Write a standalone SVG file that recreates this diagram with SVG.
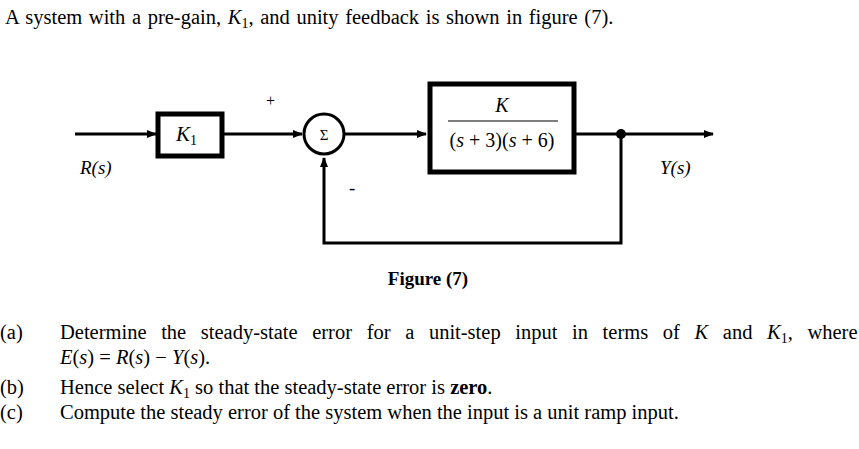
<svg xmlns="http://www.w3.org/2000/svg" width="859" height="449" viewBox="0 0 859 449">
<style>
text{font-family:"Liberation Serif",serif;fill:#000}
.t{font-size:20.5px}
.i{font-style:italic}
.ln{stroke:#000;stroke-width:3;fill:none}
.bx{stroke:#000;stroke-width:5;fill:#fff}
</style>
<defs><marker id="a" markerWidth="10" markerHeight="8" refX="9" refY="4" orient="auto" markerUnits="userSpaceOnUse"><path d="M0,0L10,4L0,8z" fill="#000"/></marker></defs>
<rect width="859" height="449" fill="#fff"/>
<text x="5" y="24" class="t" word-spacing="1.5">A system with a pre-gain, <tspan class="i">K</tspan><tspan font-size="14" dy="4">1</tspan><tspan dy="-4">, and unity feedback is shown in figure (7).</tspan></text>
<g id="connectors">
<line class="ln" x1="75" y1="134" x2="156" y2="134" marker-end="url(#a)"/>
<line class="ln" x1="223" y1="134" x2="302" y2="134" marker-end="url(#a)"/>
<line class="ln" x1="344" y1="134" x2="426" y2="134" marker-end="url(#a)"/>
<line class="ln" x1="575" y1="134" x2="713" y2="134" marker-end="url(#a)"/>
<polyline class="ln" points="621,134 621,243 324,243 324,158" marker-end="url(#a)"/>
<circle cx="621" cy="134" r="5" fill="#000"/>
</g>
<g id="k1"><rect class="bx" x="158" y="114" width="64" height="42"/><text x="176" y="141" font-size="21" class="i">K<tspan font-size="14" font-style="normal" dy="4">1</tspan></text></g>
<g id="sum"><circle cx="324" cy="134" r="20" stroke="#000" stroke-width="3" fill="#fff"/><text x="324" y="140" font-size="15" text-anchor="middle">Σ</text></g>
<g id="plant"><rect class="bx" x="430" y="84" width="144" height="88"/><text x="502" y="112" font-size="20" class="i" text-anchor="middle">K</text><line x1="448" y1="121" x2="558" y2="121" stroke="#000" stroke-width="1.2"/><text x="502" y="147" font-size="20" text-anchor="middle">(<tspan class="i">s</tspan> + 3)(<tspan class="i">s</tspan> + 6)</text></g>
<text x="80" y="174" font-size="19" class="i">R(s)</text>
<text x="660" y="174" font-size="19" class="i">Y(s)</text>
<text x="266" y="106" font-size="16">+</text>
<text x="349" y="194" font-size="19">-</text>
<text x="428" y="285" font-size="19" font-weight="bold" text-anchor="middle">Figure (7)</text>
<text x="0" y="339" class="t">(a)</text>
<text x="60" y="339" class="t" word-spacing="9.5">Determine the steady-state error for a unit-step input in terms of <tspan class="i">K</tspan> and <tspan class="i">K</tspan><tspan font-size="14" dy="4">1</tspan><tspan dy="-4">, where</tspan></text>
<text x="60" y="364" class="t"><tspan class="i">E</tspan>(<tspan class="i">s</tspan>) = <tspan class="i">R</tspan>(<tspan class="i">s</tspan>) − <tspan class="i">Y</tspan>(<tspan class="i">s</tspan>).</text>
<text x="0" y="394" class="t">(b)</text>
<text x="60" y="394" class="t">Hence select <tspan class="i">K</tspan><tspan font-size="14" dy="4">1</tspan><tspan dy="-4"> so that the steady-state error is </tspan><tspan font-weight="bold">zero</tspan>.</text>
<text x="0" y="419" class="t">(c)</text>
<text x="60" y="419" class="t">Compute the steady error of the system when the input is a unit ramp input.</text>
</svg>
